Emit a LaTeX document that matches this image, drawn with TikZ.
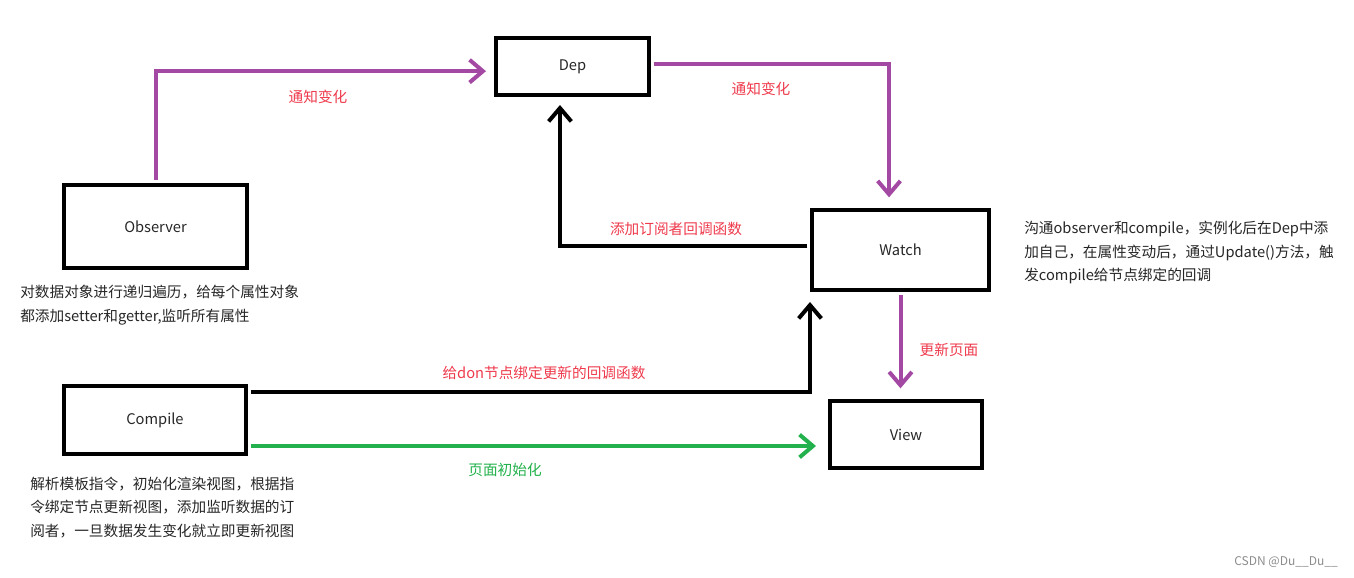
\documentclass[tikz,border=0pt]{standalone}
\usepackage{fontspec}
\setmainfont{Noto Sans CJK SC}
\usetikzlibrary{arrows.meta,positioning}
\definecolor{paintpurple}{HTML}{A349A4}
\definecolor{paintgreen}{HTML}{22B14C}
\definecolor{notered}{HTML}{EE3A4C}

\begin{document}
\begin{tikzpicture}[x=0.75pt, y=-0.75pt, every node/.style={font=\fontsize{11}{17.5}\selectfont},
    box/.style={draw, line width=3pt, inner sep=0pt, text=black!85},
    link/.style={line width=3pt, -{Straight Barb[length=10pt,width=17pt]}, shorten >=6pt, shorten <=2pt},
    note/.style={text=notered, inner sep=0pt},
    desc/.style={align=left, anchor=north west, inner sep=0pt, text=black!85}]
    \useasboundingbox (0,0) rectangle (1354,578);
    % Boxes
    \node[box, minimum width=114.75pt, minimum height=42.75pt] (dep) at (572.5,66.5) {Dep};
    \node[box, minimum width=137.25pt, minimum height=62.25pt] (obs) at (155.5,226.5) {Observer};
    \node[box, minimum width=132.75pt, minimum height=60pt] (watch) at (900.5,250) {Watch};
    \node[box, minimum width=136.5pt, minimum height=51pt] (compile) at (155,420) {Compile};
    \node[box, minimum width=114pt, minimum height=50.25pt] (view) at (906,434.5) {View};
    % Connectors
    \draw[link, paintpurple] (obs.north) |- ([yshift=-3.5pt]dep.west);
    \draw[link, paintpurple, shorten >=8pt] ([yshift=1.9pt]dep.east) -| ([xshift=-8.6pt]watch.north);
    \draw[link] ([yshift=3pt]watch.west) -| ([xshift=-9.4pt]dep.south);
    \draw[link, shorten >=7.5pt] ([yshift=21pt]compile.east) -| (watch.south west);
    \draw[link, paintgreen, shorten >=9pt] ([yshift=-19.5pt]compile.east) -- ([yshift=-19.5pt]compile.east -| view.west);
    \draw[link, paintpurple, shorten >=8pt] (watch.south) -- (watch.south |- view.north);
    % Labels
    \node[note] (l1) at (318,97) {通知变化};
    \node[note] (l2) at (761,89) {通知变化};
    \node[note] (l3) at (676,229) {添加订阅者回调函数};
    \node[note] (l4) at (544,373) {给don节点绑定更新的回调函数};
    \node[note, text=paintgreen] (l5) at (505,470) {页面初始化};
    \node[note] (l6) at (949,350) {更新页面};
    % Descriptions
    \node[desc] (d1) at (20,285) {对数据对象进行递归遍历，给每个属性对象\\都添加setter和getter,监听所有属性};
    \node[desc] (d2) at (30,477) {解析模板指令，初始化渲染视图，根据指\\令绑定节点更新视图，添加监听数据的订\\阅者，一旦数据发生变化就立即更新视图};
    \node[desc] (d3) at (1024,221) {沟通observer和compile，实例化后在Dep中添\\加自己，在属性变动后，通过Update()方法，触\\发compile给节点绑定的回调};
    \node[text=black!45, font=\fontsize{9}{11}\selectfont, anchor=east, inner sep=0pt] (mark) at (1338,562) {CSDN @Du\_\_Du\_\_};
\end{tikzpicture}
\end{document}
